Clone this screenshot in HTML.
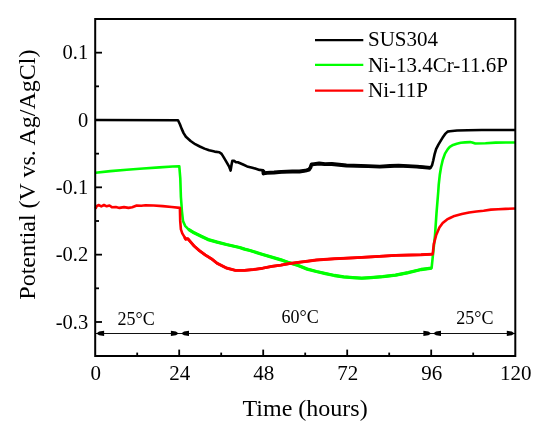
<!DOCTYPE html>
<html><head><meta charset="utf-8"><style>
html,body{margin:0;padding:0;background:#fff;}
svg{display:block;}
text{font-family:"Liberation Serif","Times New Roman",serif;fill:#000;}
</style></head><body>
<svg width="550" height="431" viewBox="0 0 550 431">
<rect x="0" y="0" width="550" height="431" fill="#fff"/>
<g fill="none" stroke-width="2.6" stroke-linejoin="round" stroke-linecap="butt">
<polyline stroke="#000" points="95.5,120 178,120.2 179.9,124.3 181.7,128.9 183.6,133.1 185.9,136.8 190.6,141 195.2,144.2 199.8,146.5 204.5,148.6 209.1,150.3 214.6,151.6 219.3,152.2 221.6,153.9 223.9,157.6 226.7,162.3 229,166.4 230.6,170.6 231.5,165 232.3,160.9 234.1,160.9 236,162.3 237.8,162.3 242.5,164.3 247.1,166.4 252.3,167.7 255.9,168.8 259.5,169.9 263.2,170.3 263.5,173.5 266.8,172.8 274.1,172.5 281.4,171.9 292.3,171.5 299.5,171.5 305.4,170.7 309,169.6 310.5,167.5 311.5,164.5 314.1,164.2 319.2,163.5 325,164.2 331.8,164 346.4,165.5 368.2,166.2 379.8,166.7 390,166 398.6,165.7 417.1,166.6 430.6,167.9 432.2,164.8 433.3,160.3 434.5,154.7 436.1,149.1 438.4,144.7 441.1,140.2 442.5,137.8 445.5,133.6 447.6,131.6 449.8,131.2 457.1,130.5 468,130.2 481.8,130 500.9,130 515,130"/>
<polyline stroke="#000" stroke-width="3.8" points="263.2,170.3 263.5,173.5 266.8,172.8 274.1,172.5 281.4,171.9 292.3,171.5 299.5,171.5 305.4,170.7 309,169.6 310.5,167.5 311.5,164.5 314.1,164.2 319.2,163.5 325,164.2 331.8,164 346.4,165.5 368.2,166.2 379.8,166.7 390,166 398.6,165.7 417.1,166.6 430.6,167.9"/>
<polyline stroke="#00ff00" points="95.5,172.8 110.4,171.1 126.7,169.8 143.1,168.5 159.5,167.4 172.6,166.5 179.3,166.3 180.3,178.5 180.9,197 181.5,205 181.9,211.1 183,220.9 185.1,225.8 188.5,229.3 194.1,232.8 201.1,236.2 208.1,239.6 217.3,242.2 226.4,244.5 239.6,247.5 244.5,249.1 250,250.5 262.7,254.5 280.9,259.8 289.1,262.7 298.2,265.5 307.3,269.1 316.4,271.5 325.5,273.6 334.5,275.5 343.6,276.9 352.7,277.6 361.8,278.2 370.9,277.6 382.8,276.6 395.6,275.1 408.3,272.6 421.1,269.5 431.6,268.2 432.7,257.4 435,235.3 436.5,213.2 438.3,191 438.7,184.8 439.8,174.8 441.1,167 442.8,159.7 445,153.6 447.8,149.1 449.8,146.8 452.3,145.3 456.8,143.7 460.7,142.8 465.1,142.4 470.2,142.1 472.2,142.5 475.3,143.5 485.5,143.3 495.6,142.6 505.8,142.5 515,142.5"/>
<polyline stroke="#00ff00" stroke-width="3.3" points="188.5,229.3 194.1,232.8 201.1,236.2 208.1,239.6 217.3,242.2 226.4,244.5 239.6,247.5 244.5,249.1 250,250.5 262.7,254.5 280.9,259.8 289.1,262.7 298.2,265.5 307.3,269.1 316.4,271.5 325.5,273.6 334.5,275.5 343.6,276.9 352.7,277.6 361.8,278.2 370.9,277.6 382.8,276.6 395.6,275.1 408.3,272.6 421.1,269.5 431.6,268.2"/>
<polyline stroke="#ff0000" points="95.5,208.6 96.7,206.2 98.5,205 101.3,206.4 104,205 106.7,206.3 109.5,205.5 112.2,207.3 115.8,207 119.5,207.9 124,207.1 128.5,207.9 132.2,207.3 136.7,205.5 141.3,205.7 145.5,205.3 153.6,205.5 162.7,206.1 171.8,207 179.9,207.9 180.2,220.9 180.9,229.3 182.3,233.4 184.4,236.9 185.8,239.2 187.8,238.7 189.9,241.1 194.1,246 199.7,250.9 205.3,255 212.2,259.3 217.3,263.4 226.4,268 235.5,270.4 244.5,270.4 253.6,269.5 262.7,268.2 271.8,266.4 280.9,265.1 289.1,263.6 298.2,262.4 307.3,261.3 316.4,260 334.5,258.7 352.7,257.9 370.9,256.9 395.6,255.4 421.1,254.7 432.7,254.1 433.8,244.2 436.1,235.3 439.4,227.6 442.7,223.1 447.1,219.4 450,218 454.5,215.9 461.8,214 469.1,212.5 476.4,211.5 483.6,210.7 490.9,209.6 498.2,209.2 505.5,208.9 515,208.5"/>
<polyline stroke="#ff0000" stroke-width="2.9" points="184.4,236.9 185.8,239.2 187.8,238.7 189.9,241.1 194.1,246 199.7,250.9 205.3,255 212.2,259.3 217.3,263.4 226.4,268 235.5,270.4 244.5,270.4 253.6,269.5 262.7,268.2 271.8,266.4 280.9,265.1 289.1,263.6 298.2,262.4 307.3,261.3 316.4,260 334.5,258.7 352.7,257.9 370.9,256.9 395.6,255.4 421.1,254.7 432.7,254.1"/>
</g>
<line x1="96" y1="333.5" x2="515" y2="333.5" stroke="#111" stroke-width="1"/>
<g fill="#000"><polygon points="96.3,333.4 99.1,331.5 104.1,330.8 104.1,336.0 99.1,335.3"/><polygon points="178.7,333.4 175.9,331.5 170.9,330.8 170.9,336.0 175.9,335.3"/><polygon points="181.2,333.4 184.0,331.5 189.0,330.8 189.0,336.0 184.0,335.3"/><polygon points="431.2,333.4 428.4,331.5 423.4,330.8 423.4,336.0 428.4,335.3"/><polygon points="433.2,333.4 436.0,331.5 441.0,330.8 441.0,336.0 436.0,335.3"/><polygon points="514.6,333.4 511.8,331.5 506.8,330.8 506.8,336.0 511.8,335.3"/></g>
<rect x="95.2" y="19" width="420.1" height="337" fill="none" stroke="#000" stroke-width="2"/>
<g stroke="#000" stroke-width="1.8"><line x1="95.2" y1="52.67" x2="102.00" y2="52.67"/><line x1="95.2" y1="120.00" x2="102.00" y2="120.00"/><line x1="95.2" y1="187.33" x2="102.00" y2="187.33"/><line x1="95.2" y1="254.66" x2="102.00" y2="254.66"/><line x1="95.2" y1="321.99" x2="102.00" y2="321.99"/><line x1="95.2" y1="86.34" x2="99.00" y2="86.34"/><line x1="95.2" y1="153.66" x2="99.00" y2="153.66"/><line x1="95.2" y1="221.00" x2="99.00" y2="221.00"/><line x1="95.2" y1="288.32" x2="99.00" y2="288.32"/><line x1="179.20" y1="356" x2="179.20" y2="349.60"/><line x1="263.20" y1="356" x2="263.20" y2="349.60"/><line x1="347.20" y1="356" x2="347.20" y2="349.60"/><line x1="431.20" y1="356" x2="431.20" y2="349.60"/><line x1="137.20" y1="356" x2="137.20" y2="352.60"/><line x1="221.20" y1="356" x2="221.20" y2="352.60"/><line x1="305.20" y1="356" x2="305.20" y2="352.60"/><line x1="389.20" y1="356" x2="389.20" y2="352.60"/><line x1="473.20" y1="356" x2="473.20" y2="352.60"/></g>
<g font-size="21"><text x="88.2" y="59.3" text-anchor="end" font-size="20.5">0.1</text><text x="88.2" y="126.6" text-anchor="end" font-size="20.5">0</text><text x="88.2" y="193.9" text-anchor="end" font-size="20.5">-0.1</text><text x="88.2" y="261.3" text-anchor="end" font-size="20.5">-0.2</text><text x="88.2" y="328.6" text-anchor="end" font-size="20.5">-0.3</text><text x="95.8" y="379.7" text-anchor="middle">0</text><text x="179.8" y="379.7" text-anchor="middle">24</text><text x="263.8" y="379.7" text-anchor="middle">48</text><text x="347.8" y="379.7" text-anchor="middle">72</text><text x="431.8" y="379.7" text-anchor="middle">96</text><text x="515.8" y="379.7" text-anchor="middle">120</text></g>
<g stroke-width="2.2">
<line x1="315" y1="40.1" x2="363.3" y2="40.1" stroke="#000"/>
<line x1="315" y1="64.85" x2="363.3" y2="64.85" stroke="#00ff00"/>
<line x1="315" y1="90.6" x2="363.3" y2="90.6" stroke="#ff0000"/>
</g>
<g font-size="21">
<text x="368" y="45.6">SUS304</text>
<text x="368" y="71.6">Ni-13.4Cr-11.6P</text>
<text x="368" y="97.3">Ni-11P</text>
</g>
<g font-size="18">
<text x="117.5" y="324.8">25°C</text>
<text x="281.5" y="322.6">60°C</text>
<text x="456.3" y="323.9">25°C</text>
</g>
<text font-size="24" x="242.5" y="415.8">Time (hours)</text>
<text font-size="24" transform="translate(34.8,299.7) rotate(-90)" x="0" y="0">Potential (V vs. Ag/AgCl)</text>
</svg>
</body></html>
